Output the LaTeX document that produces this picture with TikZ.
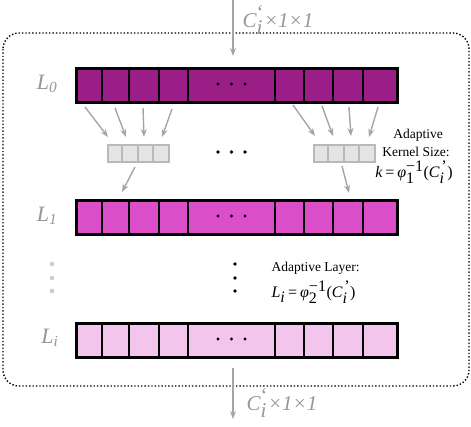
\documentclass[tikz,border=0pt]{standalone}
\usepackage{fontspec}
\setmainfont{Liberation Serif}
\usetikzlibrary{arrows.meta}
\definecolor{barA}{RGB}{155,30,135}
\definecolor{barB}{RGB}{218,78,200}
\definecolor{barC}{RGB}{243,196,236}
\definecolor{arr}{RGB}{165,165,165}
\definecolor{kfill}{RGB}{228,228,228}
\definecolor{kline}{RGB}{185,185,185}
\definecolor{lab}{RGB}{150,150,150}
\definecolor{gdot}{RGB}{205,205,205}
\tikzset{
  barbox/.style={draw=black, line width=3bp, minimum width=321bp, minimum height=34bp, inner sep=0pt, anchor=north west},
  kbox/.style={draw=kline, fill=kfill, line width=2.2bp, minimum width=61bp, minimum height=17bp, inner sep=0pt, anchor=north west},
  garrow/.style={draw=arr, line width=1.4bp, -{Stealth[length=8bp,width=6bp]}},
  laylab/.style={text=lab, font=\fontsize{22bp}{24bp}\selectfont},
  dimlab/.style={text=lab, font=\fontsize{21bp}{24bp}\selectfont, anchor=west},
  note/.style={font=\fontsize{13.5bp}{15bp}\selectfont},
  formula/.style={font=\fontsize{16bp}{18bp}\selectfont}
}
\newcommand\mybar[3]{%
  \node[barbox, fill=#3] (#1) at (75,#2) {};
  \foreach \xx in {101.7,129.3,158.7,188.3,275,304.3,333.3,363.3}
    \draw[line width=2bp] (\xx,#2) -- ++(0,34);
  \foreach \xx in {218,231.5,245}
    \fill (\xx,#2+17) circle (1.7bp);
}
\newcommand\mykernel[2]{%
  \node[kbox] (#1) at (#2,144) {};
  \foreach \ii in {1,2,3}
    \draw[kline, line width=2bp] (#2+15.25*\ii,144) -- ++(0,17);
}
\begin{document}
\begin{tikzpicture}[x=1bp,y=-1bp]
\useasboundingbox (0,0) rectangle (471,426);
\draw[dotted, line width=1.4bp, rounded corners=16bp] (3,33) rectangle (469,386);

% bars
\mybar{L0bar}{67}{barA}
\mybar{L1bar}{199}{barB}
\mybar{Libar}{322}{barC}

% layer labels
\node[laylab] (l0) at (47,84) {\textit{L}\textsubscript{\textit{0}}};
\node[laylab] (l1) at (47,216) {\textit{L}\textsubscript{\textit{1}}};
\node[laylab] (li) at (50,338) {\textit{L}\textsubscript{\textit{i}}};

% kernels
\mykernel{k1}{107}
\mykernel{k2}{313}
\foreach \xx in {218,231.5,245} \fill (\xx,152) circle (1.8bp);

% arrows from L0 to kernels
\coordinate (a1) at (85,107);  \coordinate (b1) at (108,137);
\coordinate (a2) at (115,108); \coordinate (b2) at (126,137);
\coordinate (a3) at (143,108); \coordinate (b3) at (144,137);
\coordinate (a4) at (172,109); \coordinate (b4) at (162,137);
\coordinate (a5) at (293,105); \coordinate (b5) at (315,136);
\coordinate (a6) at (322,106); \coordinate (b6) at (333,136);
\coordinate (a7) at (349,107); \coordinate (b7) at (351,136);
\coordinate (a8) at (378,107); \coordinate (b8) at (369,137);
\foreach \n in {1,...,8} \draw[garrow] (a\n) -- (b\n);

% arrows from kernels to L1
\coordinate (c1) at (135,167); \coordinate (d1) at (122,192);
\coordinate (c2) at (342,166); \coordinate (d2) at (349,193);
\draw[garrow] (c1) -- (d1);
\draw[garrow] (c2) -- (d2);

% kernel size note
\node[note] (n1) at (418,135) {Adaptive};
\node[note] (n2) at (416,152) {Kernel Size:};
\node[formula] (n3) at (414,172) {$\textit{k}\,\textrm{=}\,\textit{φ}_{\textrm{1}}^{\textrm{−1}}\textrm{(}\textit{C}_{\textit{i}}^{\,\textrm{'}}\textrm{)}$};

% vertical dots
\foreach \yy in {264,278,291} {
  \fill (235,\yy) circle (1.8bp);
  \fill[gdot] (52,\yy) circle (2.3bp);
}

% adaptive layer note
\node[note, anchor=west] (n4) at (268,268) {Adaptive Layer:};
\node[formula, anchor=west] (n5) at (268,292) {$\textit{L}_{\textit{i}}\,\textrm{=}\,\textit{φ}_{\textrm{2}}^{\textrm{−1}}\textrm{(}\textit{C}_{\textit{i}}^{\,\textrm{'}}\textrm{)}$};

% input / output
\coordinate (inA) at (233,0);
\coordinate (inB) at (233,56);
\draw[garrow] (inA) -- (inB);
\node[dimlab] (inl) at (239,20) {$\textit{C}_{\textit{i}}^{\textrm{`}}$\textit{×1×1}};
\coordinate (outA) at (233,368);
\coordinate (outB) at (233,419);
\draw[garrow] (outA) -- (outB);
\node[dimlab] (outl) at (243,403) {$\textit{C}_{\textit{i}}^{\textrm{`}}$\textit{×1×1}};
\end{tikzpicture}
\end{document}
